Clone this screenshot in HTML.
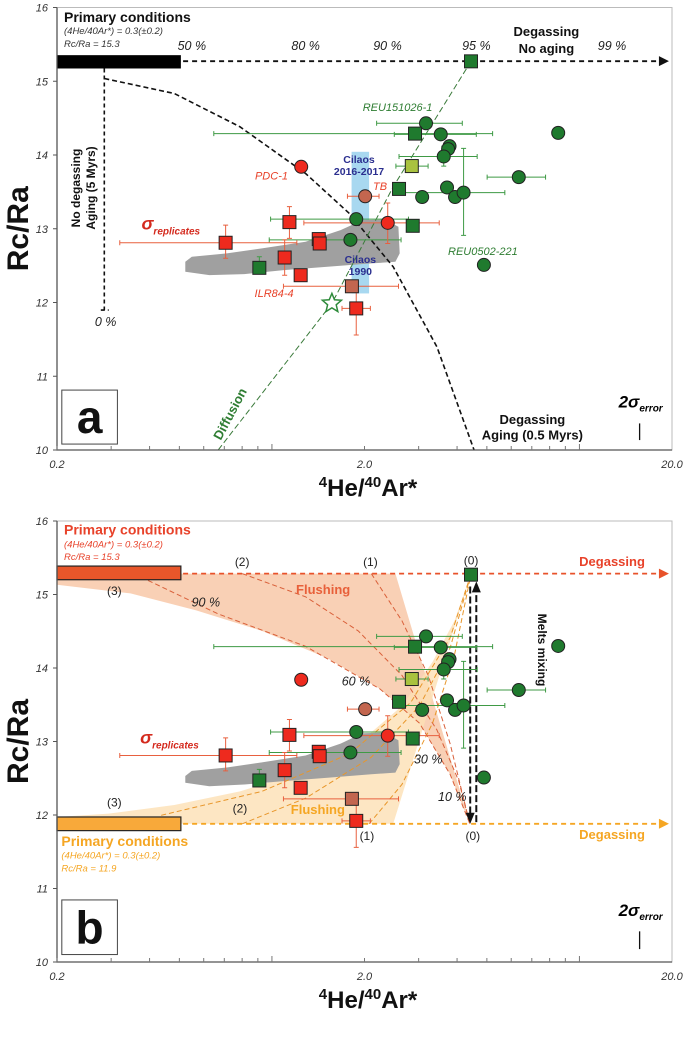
<!DOCTYPE html>
<html><head><meta charset="utf-8"><style>
body{margin:0;background:#fff}
svg{display:block;font-family:"Liberation Sans",sans-serif}
</style></head><body>
<svg id="chart" width="685" height="1047" viewBox="0 0 685 1047" xmlns="http://www.w3.org/2000/svg">
<g id="pa"></g>
<g id="pb"></g>
</svg>
<script>
// ---- data ----
const ptX = [3.17,3.54,3.78,3.74,3.62,8.53,6.35,3.71,3.08,3.94,4.20,1.88,1.80,4.89,4.44,2.92,2.59,2.87,0.91,2.85,1.245,2.01,2.38,0.707,1.14,1.42,1.43,1.10,1.24,1.82,1.88];
const ptY = [14.43,14.28,14.12,14.08,13.98,14.30,13.70,13.56,13.43,13.43,13.49,13.13,12.85,12.51,15.27,14.29,13.54,13.04,12.47,13.85,13.84,13.44,13.08,12.81,13.09,12.86,12.80,12.61,12.37,12.22,11.92];
const ptKind = ["gc","gc","gc","gc","gc","gc","gc","gc","gc","gc","gc","gc","gc","gc","gs","gs","gs","gs","gs","ls","rc","bc","rc","rs","rs","rs","rs","rs","rs","bs","rs"];
const hxIdx = [0,15,1,4,6,10,11,12,19,23,22,21,29,30];
const hxLo  = [2.19,0.647,2.50,2.59,5.01,2.65,0.99,0.98,2.53,0.32,1.27,1.76,1.09,1.69];
const hxHi  = [4.16,5.22,4.62,4.65,7.76,5.72,2.78,2.63,3.22,1.205,3.50,2.23,2.58,2.09];
const vyIdx = [23,24,22,27,30,10,18,4];
const vyLo  = [12.60,12.87,12.80,12.37,11.56,12.91,12.42,13.85];
const vyHi  = [13.05,13.30,13.35,12.85,12.24,14.09,12.62,14.12];
const yTicks = [10,11,12,13,14,15,16];
const xTickLabels = ["0.2","2.0","20.0"];
const xTickVals = [0.2,2.0,20.0];

const NS="http://www.w3.org/2000/svg";
function mk(parent,tag,attrs,text){const e=document.createElementNS(NS,tag);for(const k in attrs)e.setAttribute(k,attrs[k]);if(text!==undefined)e.textContent=text;parent.appendChild(e);return e;}

const X0=57,X1=672;
function px(v){return X0+Math.log10(v/0.2)/2*(X1-X0);}
function makeY(top,bot){return v=>top+(16-v)/6*(bot-top);}
// zoom-image coordinate → data converters (for annotation geometry)
function zaD(zx,zy){return [0.2*Math.pow(10,(zx-132)/702.5),16-(zy-22)/221.3];}
function zbD(zx,zy){return [0.2*Math.pow(10,(zx-132)/702.5),16-(zy-108)/215.3];}

function drawPanel(g,py,zD,isB){
  const P=(zx,zy)=>{const d=zD(zx,zy);return [px(d[0]),py(d[1])];};
  const pathFrom=(pts)=>pts.map((p,i)=>{const q=P(p[0],p[1]);return (i?"L":"M")+q[0].toFixed(1)+","+q[1].toFixed(1);}).join(" ");
  const T=(zx,zy,txt,st,name,anchor)=>{const q=P(zx,zy);const t=mk(g,"text",Object.assign({x:q[0],y:q[1],"text-anchor":anchor||"start"},st),txt);return t;};
  // frame
  const fr=mk(g,"rect",{x:X0,y:py(16),width:X1-X0,height:py(10)-py(16),fill:"none",stroke:"#bbb","stroke-width":1});
  

  if(!isB){
    const blue=P(805,455),blue2=P(845,880);
    const br=mk(g,"rect",{x:blue[0],y:blue[1],width:blue2[0]-blue[0],height:blue2[1]-blue[1],fill:"#a8d8f0"});
    
  } else {
    const up=mk(g,"path",{d:pathFrom([[132,262],[905,262],[1075,995],[1030,850],[960,700],[870,600],[750,510],[600,430],[450,370],[300,320],[132,295]])+"Z",fill:"#f8c4a2","fill-opacity":0.8});
    
    const lo=mk(g,"path",{d:pathFrom([[132,995],[900,995],[1078,262],[1040,400],[990,520],[920,650],[820,760],[700,840],[550,900],[400,940],[250,965],[132,975]])+"Z",fill:"#fde0b4","fill-opacity":0.8});
    
  }
  // gray blob
  const blobZ=isB?[[425,855],[440,840],[520,830],[600,815],[700,795],[780,760],[830,730],[880,728],[912,750],[915,820],[905,845],[850,850],[750,860],[650,870],[560,880],[480,885],[425,875]]
                :[[425,785],[440,770],[520,760],[600,745],[700,725],[780,690],[830,660],[880,658],[912,680],[915,760],[905,785],[850,790],[750,800],[650,810],[560,822],[480,825],[425,815]];
  const blob=mk(g,"path",{d:pathFrom(blobZ)+"Z",fill:"#a0a0a0","stroke-linejoin":"round"});
  

  if(!isB){
    const c=mk(g,"path",{d:pathFrom([[240,235],[400,280],[550,380],[700,520],[800,640],[900,800],[1000,1040],[1085,1350]]),fill:"none",stroke:"#111","stroke-width":1.6,"stroke-dasharray":"5,3"});
    
    const v=mk(g,"path",{d:pathFrom([[240,205],[240,930]])+pathFrom([[232,930],[250,930]]).replace("M"," M"),fill:"none",stroke:"#111","stroke-width":1.6,"stroke-dasharray":"4,3"});
    
    const d=mk(g,"path",{d:pathFrom([[1078,183],[900,560],[760,910],[500,1350]]),fill:"none",stroke:"#3a7a3a","stroke-width":1,"stroke-dasharray":"6,3"});
    
    const s=P(760,910);
    const sp=[];for(let i=0;i<10;i++){const r=i%2?4.5:10,a=-Math.PI/2+i*Math.PI/5;sp.push((s[0]+r*Math.cos(a)).toFixed(1)+","+(s[1]+r*Math.sin(a)).toFixed(1));}
    const st=mk(g,"polygon",{points:sp.join(" "),fill:"#fff",stroke:"#2e8b3a","stroke-width":1.5});
    
    // bar + arrow
    const b1=P(132,165),b2=P(415,205);
    const bar=mk(g,"rect",{x:b1[0],y:b1[1],width:b2[0]-b1[0],height:b2[1]-b1[1],fill:"#000"});
    
    const ar=mk(g,"path",{d:pathFrom([[420,183],[1510,183]]),stroke:"#111","stroke-width":1.8,"stroke-dasharray":"5,4",fill:"none"});
    
    const ah=P(1530,183);
    const h=mk(g,"polygon",{points:`${ah[0]},${ah[1]} ${ah[0]-10},${ah[1]-5} ${ah[0]-10},${ah[1]+5}`,fill:"#111"});
    
  } else {
    const red="#e8522a",org="#f5a623";
    const dl=(pts,col,name,w,dash)=>{const e=mk(g,"path",{d:pathFrom(pts),fill:"none",stroke:col,"stroke-width":w||1,"stroke-dasharray":dash||"5,3"});};
    dl([[555,262],[700,330],[820,430],[920,560],[1000,720],[1050,870],[1075,995]],"#d9603a","flushing-curve-2-red");
    dl([[850,262],[920,400],[980,560],[1030,760],[1075,995]],"#d9603a","flushing-curve-1-red");
    dl([[340,282],[500,380],[700,475],[870,600],[960,700],[1030,850],[1075,995]],"#d9603a","flushing-curve-3-red");
    dl([[555,995],[700,920],[850,800],[960,650],[1030,480],[1078,262]],"#e8962a","flushing-curve-2-orange");
    dl([[845,995],[920,880],[990,700],[1040,500],[1078,262]],"#e8962a","flushing-curve-1-orange");
    dl([[370,970],[600,900],[800,790],[940,640],[1030,450],[1078,262]],"#e8962a","flushing-curve-3-orange");
    dl([[420,262],[1510,262]],red,"degassing-arrow-red",1.8,"5,4");
    dl([[420,995],[1510,995]],org,"degassing-arrow-orange",1.8,"5,4");
    [[262,red],[995,org]].forEach(([zy,col],i)=>{const a=P(1530,zy);const h=mk(g,"polygon",{points:`${a[0]},${a[1]} ${a[0]-10},${a[1]-5} ${a[0]-10},${a[1]+5}`,fill:col});});
    const b1=P(132,240),b2=P(415,280);
    const bar=mk(g,"rect",{x:b1[0],y:b1[1],width:b2[0]-b1[0],height:b2[1]-b1[1],fill:"#e8562a",stroke:"#222","stroke-width":1.2});
    
    const c1=P(132,975),c2=P(415,1015);
    const bar2=mk(g,"rect",{x:c1[0],y:c1[1],width:c2[0]-c1[0],height:c2[1]-c1[1],fill:"#f8a93a",stroke:"#222","stroke-width":1.2});
    
    dl([[1076,300],[1076,975]],"#111","melts-mixing-down",2,"7,3");
    dl([[1090,990],[1090,310]],"#111","melts-mixing-up",2,"7,3");
    const a1=P(1076,995),a2=P(1090,285);
    const h1=mk(g,"polygon",{points:`${a1[0]},${a1[1]} ${a1[0]-4.5},${a1[1]-11} ${a1[0]+4.5},${a1[1]-11}`,fill:"#111"});
    const h2=mk(g,"polygon",{points:`${a2[0]},${a2[1]} ${a2[0]-4.5},${a2[1]+11} ${a2[0]+4.5},${a2[1]+11}`,fill:"#111"});
  }

  // error bars
  for(let k=0;k<hxIdx.length;k++){const i=hxIdx[k];const col=ptKind[i][0]==="g"||ptKind[i][0]==="l"?"#3f9a45":"#e8603f";
    const y=py(ptY[i]);const l=mk(g,"path",{d:`M${px(hxLo[k])},${y} L${px(hxHi[k])},${y} M${px(hxLo[k])},${y-2.5} L${px(hxLo[k])},${y+2.5} M${px(hxHi[k])},${y-2.5} L${px(hxHi[k])},${y+2.5}`,stroke:col,"stroke-width":1,fill:"none"});
    }
  for(let k=0;k<vyIdx.length;k++){const i=vyIdx[k];const col=ptKind[i][0]==="g"||ptKind[i][0]==="l"?"#3f9a45":"#e8603f";
    const x=px(ptX[i]);const l=mk(g,"path",{d:`M${x},${py(vyLo[k])} L${x},${py(vyHi[k])} M${x-2.5},${py(vyLo[k])} L${x+2.5},${py(vyLo[k])} M${x-2.5},${py(vyHi[k])} L${x+2.5},${py(vyHi[k])}`,stroke:col,"stroke-width":1,fill:"none"});
    }
  // points
  const fills={g:"#1f7a2e",l:"#a9c23f",r:"#ee2a1e",b:"#c3664f"};
  for(let i=0;i<ptX.length;i++){
    const x=px(ptX[i]),y=py(ptY[i]),k=ptKind[i];const f=fills[k[0]];let e;
    if(k[1]==="c")e=mk(g,"circle",{cx:x,cy:y,r:6.5,fill:f,stroke:"#222","stroke-width":1});
    else e=mk(g,"rect",{x:x-6.5,y:y-6.5,width:13,height:13,fill:f,stroke:"#222","stroke-width":1});
    
    
  }
  // axes
  const ax=mk(g,"path",{d:`M${X0},${py(16)} L${X0},${py(10)} L${X1},${py(10)}`,stroke:"#555","stroke-width":1.3,fill:"none"});
  
  for(const v of yTicks){const y=py(v);
    const tk=mk(g,"line",{x1:X0-4,y1:y,x2:X0,y2:y,stroke:"#555"});
    const t=mk(g,"text",{x:X0-9,y:y+4,"text-anchor":"end","font-size":11,"font-style":"italic",fill:"#333"},String(v));}
  for(let d=0;d<2;d++)for(let m=1;m<=10;m++){const v=0.2*Math.pow(10,d)*m/2*2/2;}
  for(let d=0;d<2;d++)for(let m=2;m<=10;m++){const v=0.1*Math.pow(10,d)*m; if(v<0.2)continue;const x=px(v);
    const tk=mk(g,"line",{x1:x,y1:py(10),x2:x,y2:py(10)-(m===10?6:4),stroke:"#777"});}
  for(let i=0;i<xTickVals.length;i++){const t=mk(g,"text",{x:px(xTickVals[i]),y:py(10)+18,"text-anchor":"middle","font-size":11,"font-style":"italic",fill:"#333"},xTickLabels[i]);}
  const cy=(py(16)+py(10))/2;
  const yt=mk(g,"text",{x:0,y:0,transform:`translate(28,${cy}) rotate(-90)`,"text-anchor":"middle","font-size":30,"font-weight":"bold",fill:"#111"},"Rc/Ra");
  
  const xt=mk(g,"text",{x:368,y:py(10)+46,"text-anchor":"middle","font-size":24,"font-weight":"bold",fill:"#111"});
  
  xt.innerHTML='<tspan font-size="15" dy="-9">4</tspan><tspan dy="9">He/</tspan><tspan font-size="15" dy="-9">40</tspan><tspan dy="9">Ar*</tspan>';
  // panel label box
  const lb1=P(143,isB?1218:1170),lb2=P(270,isB?1378:1332);
  const lb=mk(g,"rect",{x:lb1[0],y:lb1[1],width:lb2[0]-lb1[0],height:lb2[1]-lb1[1],fill:"#fff",stroke:"#444","stroke-width":1});
  
  const lt=mk(g,"text",{x:(lb1[0]+lb2[0])/2,y:lb2[1]-11,"text-anchor":"middle","font-size":46,"font-weight":"bold",fill:"#111"},isB?"b":"a");
  
  // 2 sigma
  const s1=T(1415,isB?1265:1222,"","","two-sigma-label");
  s1.setAttribute("font-size","17");s1.setAttribute("font-weight","bold");s1.setAttribute("font-style","italic");
  s1.innerHTML='2σ<tspan font-size="10" dy="4">error</tspan>';
  const e1=P(1463,isB?1310:1270),e2=P(1463,isB?1362:1320);
  const el=mk(g,"line",{x1:e1[0],y1:e1[1],x2:e2[0],y2:e2[1],stroke:"#111","stroke-width":1.3});
  // sigma replicates
  const sr=T(isB?322:325,isB?760:688,"",{"font-size":18,"font-weight":"bold","font-style":"italic",fill:"#d42a1e"},"sigma-replicates-label");
  sr.innerHTML='σ<tspan font-size="10" dy="5">replicates</tspan>';
  return T;
}

const gA=document.getElementById("pa"),gB=document.getElementById("pb");
const TA=drawPanel(gA,makeY(7.5,450),zaD,false);
const TB=drawPanel(gB,makeY(521,962),zbD,true);

// panel a texts
const it={"font-size":12.5,"font-style":"italic",fill:"#222"};
TA(148,65,"Primary conditions",{"font-size":14,"font-weight":"bold",fill:"#111"},"primary-conditions-title");
TA(148,102,"(4He/40Ar*) = 0.3(±0.2)",{"font-size":9.5,"font-style":"italic",fill:"#333"},"primary-ratio-text");
TA(148,140,"Rc/Ra = 15.3",{"font-size":9.5,"font-style":"italic",fill:"#333"},"primary-rcra-text");
[["50 %",440],["80 %",700],["90 %",887],["95 %",1090],["99 %",1400]].forEach(([t,x])=>TA(x,150,t,it,"percent-label","middle"));
TA(1250,108,"Degassing",{"font-size":13,"font-weight":"bold",fill:"#111"},"degassing-label","middle");
TA(1250,158,"No aging",{"font-size":13,"font-weight":"bold",fill:"#111"},"no-aging-label","middle");
TA(910,332,"REU151026-1",{"font-size":11,"font-style":"italic",fill:"#2e7d32"},"label-reu151026","middle");
TA(822,488,"Cilaos",{"font-size":10.5,"font-weight":"bold",fill:"#2b2f8f"},"label-cilaos-2016","middle");
TA(822,525,"2016-2017",{"font-size":10.5,"font-weight":"bold",fill:"#2b2f8f"},"label-cilaos-2016b","middle");
TA(622,538,"PDC-1",{"font-size":11,"font-style":"italic",fill:"#e8422a"},"label-pdc1","middle");
TA(870,570,"TB",{"font-size":11,"font-style":"italic",fill:"#e8422a"},"label-tb","middle");
TA(825,788,"Cilaos",{"font-size":10.5,"font-weight":"bold",fill:"#2b2f8f"},"label-cilaos-1990","middle");
TA(825,825,"1990",{"font-size":10.5,"font-weight":"bold",fill:"#2b2f8f"},"label-cilaos-1990b","middle");
TA(628,890,"ILR84-4",{"font-size":11,"font-style":"italic",fill:"#e8422a"},"label-ilr84","middle");
TA(1105,765,"REU0502-221",{"font-size":11,"font-style":"italic",fill:"#2e7d32"},"label-reu0502","middle");
TA(243,978,"0 %",it,"zero-percent-label","middle");
(function(){const g=gA;
 const t1=mk(g,"text",{transform:"translate(80,188) rotate(-90)","text-anchor":"middle","font-size":12,"font-weight":"bold",fill:"#111"},"No degassing");
 const t2=mk(g,"text",{transform:"translate(95,188) rotate(-90)","text-anchor":"middle","font-size":12,"font-weight":"bold",fill:"#111"},"Aging (5 Myrs)");
 const t3=mk(g,"text",{transform:"translate(234,416) rotate(-62)","text-anchor":"middle","font-size":13,"font-weight":"bold",fill:"#2e7d32"},"Diffusion");
})();
TA(1218,1272,"Degassing",{"font-size":13,"font-weight":"bold",fill:"#111"},"degassing-aging-label","middle");
TA(1218,1318,"Aging (0.5 Myrs)",{"font-size":13,"font-weight":"bold",fill:"#111"},"aging-05-label","middle");

// panel b texts
const rd="#e8422a",og="#f5a623";
TB(148,147,"Primary conditions",{"font-size":14,"font-weight":"bold",fill:rd},"primary-conditions-red");
TB(148,186,"(4He/40Ar*) = 0.3(±0.2)",{"font-size":9.5,"font-style":"italic",fill:rd},"primary-ratio-red");
TB(148,222,"Rc/Ra = 15.3",{"font-size":9.5,"font-style":"italic",fill:rd},"primary-rcra-red");
TB(142,1060,"Primary conditions",{"font-size":14,"font-weight":"bold",fill:og},"primary-conditions-orange");
TB(142,1097,"(4He/40Ar*) = 0.3(±0.2)",{"font-size":9.5,"font-style":"italic",fill:og},"primary-ratio-orange");
TB(142,1134,"Rc/Ra = 11.9",{"font-size":9.5,"font-style":"italic",fill:og},"primary-rcra-orange");
const pl={"font-size":12,fill:"#222"};
[["(0)",1078,235],["(1)",848,240],["(2)",555,240],["(3)",263,325],["(0)",1082,1042],["(1)",840,1042],["(2)",550,962],["(3)",263,945]].forEach(([t,x,y])=>TB(x,y,t,pl,"path-number-label","middle"));
TB(740,322,"Flushing",{"font-size":13,"font-weight":"bold",fill:"#e8603a"},"flushing-label-red","middle");
TB(728,966,"Flushing",{"font-size":13,"font-weight":"bold",fill:"#f5a623"},"flushing-label-orange","middle");
[["90 %",472,358],["60 %",815,590],["30 %",980,818],["10 %",1035,928]].forEach(([t,x,y])=>TB(x,y,t,it,"percent-label","middle"));
TB(1400,240,"Degassing",{"font-size":13,"font-weight":"bold",fill:rd},"degassing-label-red","middle");
TB(1400,1040,"Degassing",{"font-size":13,"font-weight":"bold",fill:og},"degassing-label-orange","middle");
(function(){const t=mk(gB,"text",{transform:"translate(538,650) rotate(90)","text-anchor":"middle","font-size":12,"font-weight":"bold",fill:"#111"},"Melts mixing");})();
</script>
</body></html>
